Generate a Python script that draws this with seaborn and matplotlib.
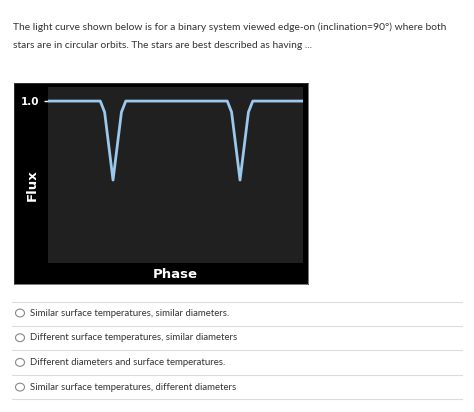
import matplotlib
matplotlib.use("Agg")
import matplotlib.pyplot as plt
import seaborn as sns
from matplotlib.patches import Rectangle, Circle
from matplotlib.lines import Line2D

phase = [0.0, 0.205, 0.222, 0.255, 0.288, 0.305, 0.703, 0.720, 0.753, 0.786, 0.803, 1.0]
flux = [1.0, 1.0, 0.93, 0.5, 0.93, 1.0, 1.0, 0.93, 0.5, 0.93, 1.0, 1.0]
question = ["The light curve shown below is for a binary system viewed edge-on (inclination=90°) where both",
            "stars are in circular orbits. The stars are best described as having ..."]
options = ["Similar surface temperatures, similar diameters.",
           "Different surface temperatures, similar diameters",
           "Different diameters and surface temperatures.",
           "Similar surface temperatures, different diameters"]

W, H = 474, 412
fig = plt.figure(figsize=(W/100, H/100), dpi=100)
fig.patch.set_facecolor("white")

def fx(x): return x / W
def fy(y): return 1 - y / H

for i, line in enumerate(question):
    fig.text(fx(13), fy(27 + 19*i), line, fontsize=7.4, family="Lato", color="#333333", va="center")

# black panel as a background axes
bg = fig.add_axes([fx(14), fy(284), fx(308)-fx(14), fy(83)-fy(284)], zorder=0)
bg.set_facecolor("black")
bg.set_xticks([]); bg.set_yticks([])
for s in bg.spines.values():
    s.set_color("#444444"); s.set_linewidth(0.5)

ax = fig.add_axes([fx(48), fy(263), fx(303)-fx(48), fy(87)-fy(263)], zorder=1)
ax.set_facecolor("#202020")
sns.lineplot(x=phase, y=flux, ax=ax, color="#9cc8ee", lw=2)
ax.set_xlim(0, 1)
ax.set_ylim(-0.025, 1.089)
ax.set_xticks([])
ax.set_yticks([1.0])
ax.set_yticklabels(["1.0"], color="white", fontweight="bold", fontsize=7.5)
ax.tick_params(axis="y", colors="white", length=3, width=1)
ax.set_xlabel(""); ax.set_ylabel("")
for s in ax.spines.values():
    s.set_visible(False)
fig.text(fx(175), fy(275), "Phase", color="white", fontweight="bold", fontsize=9.5, ha="center", va="center", zorder=3)
fig.text(fx(32), fy(185), "Flux", color="white", fontweight="bold", fontsize=9.5, ha="center", va="center", rotation=90, zorder=3)

for y in [302, 326, 350, 375, 399]:
    fig.add_artist(Line2D([fx(12), fx(462)], [fy(y), fy(y)], color="#dddddd", lw=0.8))
for i, opt in enumerate(options):
    y = 313 + 24.7*i
    fig.add_artist(Circle((fx(20), fy(y)), 4.5/W, transform=fig.transFigure,
                          facecolor="white", edgecolor="#888888", lw=0.8))
    fig.text(fx(30), fy(y), opt, fontsize=6.9, family="Lato", color="#333333", va="center")

fig.savefig("out.png", dpi=100)
